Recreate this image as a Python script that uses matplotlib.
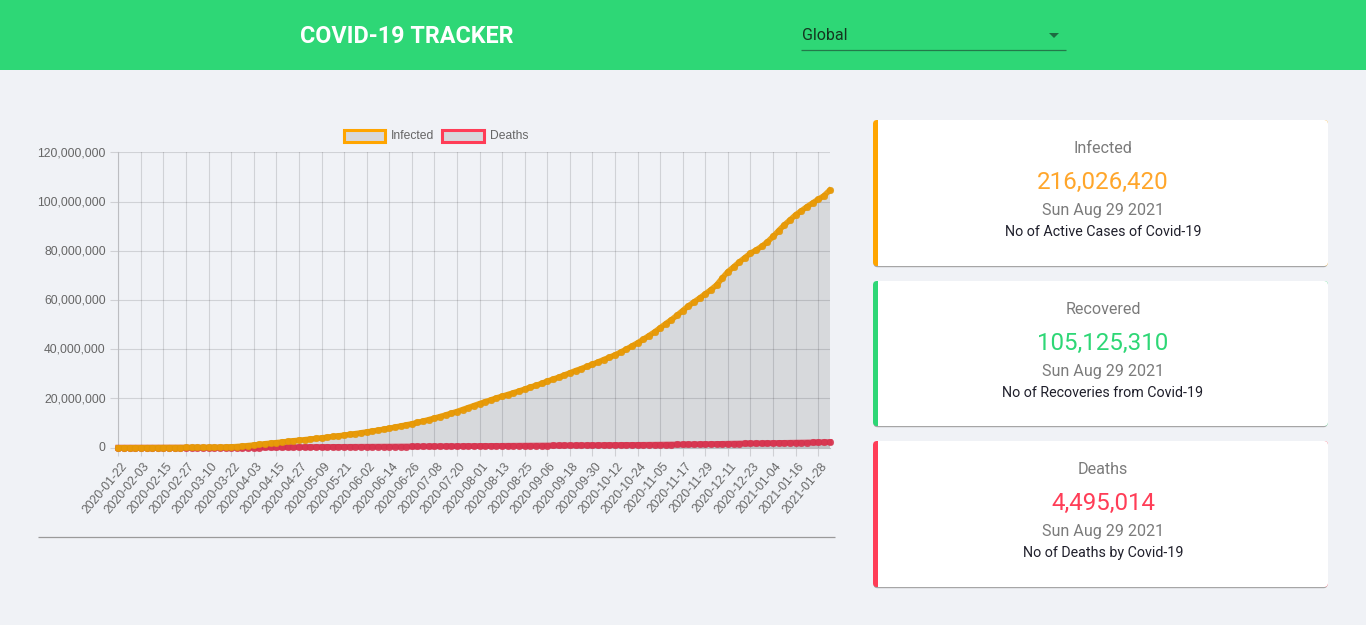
import matplotlib
matplotlib.use("Agg")
import matplotlib.pyplot as plt
import pandas as pd
from matplotlib.patches import FancyBboxPatch, Polygon, Rectangle
from matplotlib.ticker import FuncFormatter
from matplotlib.transforms import ScaledTranslation

W, H = 1366, 625
BG = "#f0f2f6"
GREEN = "#2ed776"
ORANGE = "#ffa500"
RED = "#ff3d57"

infected_m = [
    0.0006, 0.002, 0.006, 0.012, 0.017, 0.031, 0.040, 0.045, 0.069, 0.075, 0.077, 0.079,
    0.083, 0.088, 0.095, 0.106, 0.119, 0.146, 0.182, 0.244, 0.337, 0.468, 0.66, 0.86,
    1.1, 1.35, 1.6, 1.85, 2.05, 2.3, 2.55, 2.8, 3.04, 3.25, 3.5, 3.75,
    4.0, 4.25, 4.55, 4.8, 5.1, 5.4, 5.7, 6.05, 6.4, 6.75, 7.1, 7.5,
    7.9, 8.35, 8.8, 9.25, 9.7, 10.25, 10.8, 11.4, 12.0, 12.65, 13.3, 14.0,
    14.7, 15.5, 16.3, 17.1, 17.9, 18.7, 19.4, 20.2, 20.9, 21.6, 22.3, 23.0,
    23.8, 24.6, 25.3, 26.1, 27.0, 27.8, 28.6, 29.5, 30.4, 31.3, 32.1, 33.0,
    33.9, 34.8, 35.8, 36.7, 37.7, 38.8, 40.0, 41.3, 42.6, 44.0, 45.5, 47.0,
    48.7, 50.4, 52.0, 53.8, 55.7, 57.6, 59.2, 60.8, 62.5, 64.2, 66.1, 68.9,
    71.5, 73.4, 75.4, 77.2, 79.0, 80.3, 81.8, 83.6, 85.8, 88.2, 90.5, 92.5,
    94.6, 96.2, 97.9, 99.4, 100.9, 102.3, 104.5,
]
deaths_m = [
    0.00002, 0.00006, 0.00013, 0.00021, 0.00036, 0.00063, 0.0009, 0.0011, 0.0015, 0.002, 0.0023, 0.0026,
    0.0029, 0.003, 0.0033, 0.0036, 0.0043, 0.0054, 0.0071, 0.0098, 0.0147, 0.0212, 0.0305, 0.0423,
    0.0586, 0.0738, 0.0962, 0.1174, 0.1348, 0.1605, 0.1776, 0.1964, 0.2095, 0.232, 0.2475, 0.263,
    0.2785, 0.2905, 0.306, 0.318, 0.332, 0.345, 0.356, 0.37, 0.381, 0.397, 0.407, 0.421,
    0.433, 0.45, 0.468, 0.48, 0.494, 0.506, 0.518, 0.532, 0.55, 0.565, 0.579, 0.595,
    0.61, 0.628, 0.643, 0.66, 0.68, 0.696, 0.714, 0.73, 0.745, 0.766, 0.78, 0.80,
    0.815, 0.832, 0.847, 0.863, 0.88, 0.897, 0.912, 0.928, 0.945, 0.962, 0.979, 0.997,
    1.01, 1.03, 1.045, 1.06, 1.075, 1.095, 1.11, 1.125, 1.145, 1.16, 1.18, 1.195,
    1.225, 1.25, 1.275, 1.30, 1.33, 1.36, 1.385, 1.415, 1.44, 1.48, 1.51, 1.55,
    1.60, 1.64, 1.68, 1.71, 1.75, 1.77, 1.80, 1.84, 1.87, 1.92, 1.95, 1.99,
    2.03, 2.06, 2.10, 2.14, 2.19, 2.23, 2.27,
]
tick_dates = [
    "2020-01-22", "2020-02-03", "2020-02-15", "2020-02-27", "2020-03-10", "2020-03-22", "2020-04-03", "2020-04-15",
    "2020-04-27", "2020-05-09", "2020-05-21", "2020-06-02", "2020-06-14", "2020-06-26", "2020-07-08", "2020-07-20",
    "2020-08-01", "2020-08-13", "2020-08-25", "2020-09-06", "2020-09-18", "2020-09-30", "2020-10-12", "2020-10-24",
    "2020-11-05", "2020-11-17", "2020-11-29", "2020-12-11", "2020-12-23", "2021-01-04", "2021-01-16", "2021-01-28",
]
y_ticks = [0, 20000000, 40000000, 60000000, 80000000, 100000000, 120000000]

card_titles = ["Infected", "Recovered", "Deaths"]
card_values = ["216,026,420", "105,125,310", "4,495,014"]
card_date = "Sun Aug 29 2021"
card_notes = ["No of Active Cases of Covid-19", "No of Recoveries from Covid-19", "No of Deaths by Covid-19"]
card_colors = [ORANGE, GREEN, RED]
value_colors = ["#ffa62b", GREEN, RED]
card_tops = [120, 281, 441]
card_heights = [146, 145, 146]

dates = pd.date_range("2020-01-22", periods=len(infected_m), freq="3D")
infected = [v * 1e6 for v in infected_m]
deaths = [v * 1e6 for v in deaths_m]

plt.rcParams["font.family"] = ["Roboto", "DejaVu Sans"]
fig = plt.figure(figsize=(W / 100, H / 100), dpi=100, facecolor=BG)

# page furniture, in pixel coordinates
page = fig.add_axes([0, 0, 1, 1], zorder=0)
page.set_xlim(0, W)
page.set_ylim(H, 0)
page.axis("off")
page.add_patch(Rectangle((0, 0), W, 70, fc=GREEN, ec="none"))
page.text(300, 36.5, "COVID-19 TRACKER", color="white", fontsize=16.8, fontweight="bold", va="center")
page.text(802, 35, "Global", color="#14351f", fontsize=11.5, va="center")
page.plot([801, 1066], [50, 50], color="#23794a", lw=0.9, solid_capstyle="butt")
page.add_patch(Polygon([[1049, 33], [1059, 33], [1054, 38]], fc="#1d6b41", ec="none"))
page.plot([38, 835], [537, 537], color="#9a9a9a", lw=0.9, solid_capstyle="butt")

# chart legend
for x0, x1, label, color, tx in [(344, 384.5, "Infected", ORANGE, 391), (442, 483.5, "Deaths", RED, 490)]:
    page.add_patch(Rectangle((x0, 129.5), x1 - x0, 12, fc="#d7d8dc", ec=color, lw=2.2))
    page.text(tx, 136.3, label, color="#666666", fontsize=8.7, family="Liberation Sans", va="center")

# stat cards
for i, top in enumerate(card_tops):
    h = card_heights[i]
    page.add_patch(FancyBboxPatch((873.5, top + 1.2), 454, h, boxstyle="round,pad=0,rounding_size=4",
                                  fc="#a6a6a6", ec="none"))
    page.add_patch(FancyBboxPatch((873, top), 455, h, boxstyle="round,pad=0,rounding_size=4",
                                  fc=card_colors[i], ec="none"))
    page.add_patch(FancyBboxPatch((878, top), 450, h, boxstyle="round,pad=0,rounding_size=4", fc="white", ec="none"))
    page.add_patch(Rectangle((878, top), 8, h, fc="white", ec="none"))
    cx = 1103
    page.text(cx, top + 28.3, card_titles[i], color="#7b7b7b", fontsize=11.6, ha="center", va="center")
    page.text(cx, top + 62, card_values[i], color=value_colors[i], fontsize=17.4, ha="center", va="center")
    page.text(cx, top + 90.3, card_date, color="#7b7b7b", fontsize=11.6, ha="center", va="center")
    page.text(cx, top + 111.6, card_notes[i], color="#1f1f2b", fontsize=10.25, ha="center", va="center")

# line chart
left, right, ax_top, ax_bottom = 118.3, 829.5, 152.3, 447.7
ax = fig.add_axes([left / W, 1 - ax_bottom / H, (right - left) / W, (ax_bottom - ax_top) / H], zorder=1)
ax.patch.set_alpha(0)
ax.fill_between(dates, deaths, color="black", alpha=0.1, lw=0, zorder=2)
ax.fill_between(dates, infected, color="black", alpha=0.1, lw=0, zorder=2)
ax.plot(dates, deaths, color="#dc3a53", lw=4.2, marker="o", ms=4.8, mfc="#d83550", mec="#cf3049",
        mew=0.3, alpha=0.9, clip_on=False, zorder=3, snap=False)
ax.plot(dates, infected, color="#eb9d0a", lw=4.0, marker="o", ms=4.8, mfc="#e89a08", mec="#de9406",
        mew=0.3, alpha=0.95, clip_on=False, zorder=4, snap=False)

ax.set_xlim(dates[0], dates[-1])
ax.set_ylim(0, 120000000)
ax.set_yticks(y_ticks)
ax.yaxis.set_major_formatter(FuncFormatter(lambda v, _: f"{int(v):,}"))
ax.set_xticks(pd.to_datetime(tick_dates))
ax.set_xticklabels(tick_dates, rotation=50, ha="right", rotation_mode="anchor")
ax.grid(True, color="black", alpha=0.13, lw=0.8, zorder=1)
ax.set_axisbelow(True)
ax.tick_params(axis="both", length=6, width=0.8, color="#cfd0d4", labelcolor="#666666", labelsize=8.7, pad=3)
for lab in ax.get_xticklabels() + ax.get_yticklabels():
    lab.set_family("Liberation Sans")
nudge_x = ScaledTranslation(2 / 100, 0, fig.dpi_scale_trans)
for lab in ax.get_xticklabels():
    lab.set_transform(lab.get_transform() + nudge_x)
nudge_y = ScaledTranslation(0, 0.8 / 100, fig.dpi_scale_trans)
for lab in ax.get_yticklabels():
    lab.set_transform(lab.get_transform() + nudge_y)
for name in ["top", "right"]:
    ax.spines[name].set_visible(False)
ax.spines["left"].set_color("#bcbdc1")
ax.spines["bottom"].set_color("#bcbdc1")
ax.spines["left"].set_linewidth(0.8)
ax.spines["bottom"].set_linewidth(0.8)

fig.savefig("out.png", dpi=100, facecolor=BG)
